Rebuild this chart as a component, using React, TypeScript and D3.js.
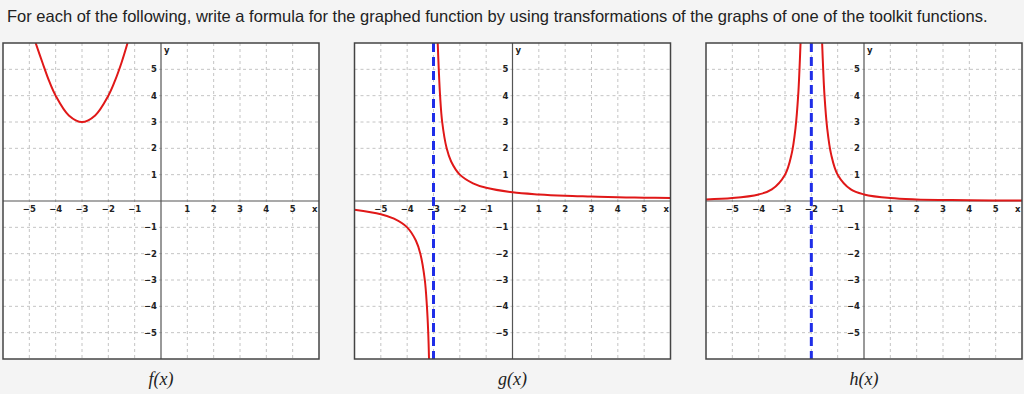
import * as d3 from 'd3';
import { useRef, useEffect } from 'react';

const TITLE =
  'For each of the following, write a formula for the graphed function by using transformations of the graphs of one of the toolkit functions.';

const panelNames = ['f(x)', 'g(x)', 'h(x)'];
const ticks = [-5, -4, -3, -2, -1, 1, 2, 3, 4, 5];
const tickLabels = ['−5', '−4', '−3', '−2', '−1', '1', '2', '3', '4', '5'];

// points, [x, y]
const fPoints: [number, number][] = [
  [-4.76, 6], [-4.5, 5.25], [-4.25, 4.56], [-4, 4], [-3.5, 3.25], [-3, 3],
  [-2.5, 3.25], [-2, 4], [-1.75, 4.56], [-1.5, 5.25], [-1.27, 6],
];
const gRight: [number, number][] = [
  [-2.84, 6], [-2.8, 5], [-2.75, 4], [-2.67, 3], [-2.5, 2], [-2.33, 1.5], [-2, 1],
  [-1.5, 0.67], [-1, 0.5], [0, 0.33], [1, 0.25], [2, 0.2], [3, 0.17], [4, 0.14],
  [5, 0.125], [6, 0.11],
];
const gLeft: [number, number][] = [
  [-6, -0.33], [-5, -0.5], [-4.5, -0.67], [-4, -1], [-3.67, -1.5], [-3.5, -2],
  [-3.33, -3], [-3.25, -4], [-3.2, -5], [-3.17, -6],
];
const hLeft: [number, number][] = [
  [-6, 0.06], [-5, 0.11], [-4, 0.25], [-3.5, 0.44], [-3, 1], [-2.75, 1.78],
  [-2.6, 2.78], [-2.5, 4], [-2.45, 5], [-2.41, 6],
];
const hRight: [number, number][] = [
  [-1.59, 6], [-1.55, 5], [-1.5, 4], [-1.4, 2.78], [-1.25, 1.78], [-1, 1],
  [-0.5, 0.44], [0, 0.25], [1, 0.11], [2, 0.06], [3, 0.04], [4, 0.03], [6, 0.016],
];
const asymptotes = [null, -3, -2];
const curves = [[fPoints], [gRight, gLeft], [hLeft, hRight]];

export default function App() {
  const svgRef = useRef<SVGSVGElement | null>(null);

  useEffect(() => {
    const width = 1024;
    const height = 394;
    const size = 316;
    const panelX = [3, 354.5, 706];
    const panelY = 43;

    d3.select(svgRef.current).selectAll('*').remove();
    const svg = d3.select(svgRef.current).attr('width', width).attr('height', height);

    svg.append('rect').attr('width', width).attr('height', height).attr('fill', '#f4f4f4');

    svg
      .append('text')
      .attr('x', 7)
      .attr('y', 22)
      .attr('font-family', 'Liberation Sans, Arial, sans-serif')
      .attr('font-size', '16.5px')
      .attr('fill', '#222')
      .text(TITLE);

    const x = d3.scaleLinear().domain([-6, 6]).range([0, size]);
    const y = d3.scaleLinear().domain([-6, 6]).range([size, 0]);
    const line = d3
      .line<[number, number]>()
      .x((d) => x(d[0]))
      .y((d) => y(d[1]))
      .curve(d3.curveCatmullRom);

    panelNames.forEach((name, i) => {
      const g = svg.append('g').attr('transform', `translate(${panelX[i]},${panelY})`);

      g.append('rect').attr('width', size).attr('height', size).attr('fill', '#fff');

      // grid
      ticks.forEach((t) => {
        g.append('line')
          .attr('x1', x(t)).attr('x2', x(t)).attr('y1', 0).attr('y2', size)
          .attr('stroke', '#c4c4c4').attr('stroke-dasharray', '3,3');
        g.append('line')
          .attr('y1', y(t)).attr('y2', y(t)).attr('x1', 0).attr('x2', size)
          .attr('stroke', '#c4c4c4').attr('stroke-dasharray', '3,3');
      });

      // axes
      g.append('line')
        .attr('x1', 0).attr('x2', size).attr('y1', y(0)).attr('y2', y(0))
        .attr('stroke', '#555').attr('stroke-width', 1.2);
      g.append('line')
        .attr('x1', x(0)).attr('x2', x(0)).attr('y1', 0).attr('y2', size)
        .attr('stroke', '#555').attr('stroke-width', 1.2);

      const lbl = (sel: any) =>
        sel.attr('font-family', 'DejaVu Sans, sans-serif').attr('font-size', '8.5px')
          .attr('font-weight', 'bold').attr('fill', '#222');

      ticks.forEach((t, k) => {
        g.append('text').call(lbl)
          .attr('x', x(t)).attr('y', y(0) + 11)
          .attr('text-anchor', 'middle').text(tickLabels[k]);
        g.append('text').call(lbl)
          .attr('x', x(0) - 4).attr('y', y(t) + 3)
          .attr('text-anchor', 'end').text(tickLabels[k]);
      });
      g.append('text').call(lbl).attr('x', x(0) + 3).attr('y', 10).text('y');
      g.append('text').call(lbl).attr('x', size - 7).attr('y', y(0) + 11).text('x');

      const clipId = `clip-${i}`;
      g.append('clipPath').attr('id', clipId)
        .append('rect').attr('width', size).attr('height', size);
      const plot = g.append('g').attr('clip-path', `url(#${clipId})`);

      const a = asymptotes[i];
      if (a !== null) {
        plot.append('line')
          .attr('x1', x(a)).attr('x2', x(a)).attr('y1', 0).attr('y2', size)
          .attr('stroke', '#1f2ee8').attr('stroke-width', 3)
          .attr('stroke-dasharray', '9,5');
      }

      curves[i].forEach((pts) => {
        plot.append('path')
          .attr('d', line(pts))
          .attr('fill', 'none')
          .attr('stroke', '#e01818')
          .attr('stroke-width', 2);
      });

      g.append('rect').attr('width', size).attr('height', size)
        .attr('fill', 'none').attr('stroke', '#444').attr('stroke-width', 1.5);

      svg.append('text')
        .attr('x', panelX[i] + x(0))
        .attr('y', 385)
        .attr('text-anchor', 'middle')
        .attr('font-family', 'Liberation Serif, Times New Roman, serif')
        .attr('font-style', 'italic')
        .attr('font-size', '18px')
        .attr('fill', '#222')
        .text(name);
    });
  }, []);

  return (
    <div style={{ position: 'absolute', left: 0, top: 0 }}>
      <svg ref={svgRef} style={{ display: 'block' }} />
    </div>
  );
}
